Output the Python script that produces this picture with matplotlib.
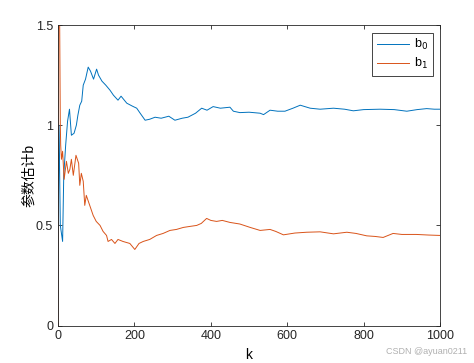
import matplotlib
matplotlib.use('Agg')
import matplotlib.pyplot as plt

plt.rcParams['font.family'] = ['Liberation Sans', 'Noto Sans CJK SC', 'DejaVu Sans']

# values
k_b0 = [0, 2, 4, 6, 9, 12, 15, 20, 25, 30, 35, 42, 48, 52, 57, 62, 66, 72, 79, 85,
        93, 101, 106, 115, 125, 136, 145, 157, 165, 180, 195, 206, 215, 228, 240,
        254, 270, 290, 306, 325, 340, 360, 376, 390, 406, 425, 450, 459, 476, 500,
        529, 538, 555, 575, 594, 615, 634, 660, 686, 721, 750, 773, 800, 843, 880,
        913, 940, 965, 985, 1000]
b0 = [0.0, 1.0, 0.8, 0.5, 0.46, 0.42, 0.75, 0.9, 1.02, 1.08, 0.95, 0.96, 1.0, 1.05,
      1.1, 1.12, 1.2, 1.23, 1.29, 1.27, 1.23, 1.28, 1.25, 1.22, 1.2, 1.175, 1.15,
      1.125, 1.145, 1.11, 1.095, 1.085, 1.06, 1.025, 1.03, 1.04, 1.035, 1.045, 1.025,
      1.035, 1.04, 1.06, 1.085, 1.075, 1.093, 1.085, 1.09, 1.07, 1.063, 1.065, 1.06,
      1.053, 1.075, 1.07, 1.07, 1.085, 1.10, 1.085, 1.08, 1.085, 1.08, 1.072, 1.078,
      1.08, 1.078, 1.07, 1.078, 1.083, 1.08, 1.08]

k_b1 = [0, 1, 4, 6, 7, 9, 12, 16, 22, 27, 31, 35, 40, 47, 54, 57, 61, 66, 70, 74,
        83, 92, 100, 110, 118, 127, 131, 140, 149, 157, 170, 188, 201, 212, 223, 240,
        258, 275, 293, 310, 328, 345, 363, 375, 389, 400, 415, 430, 450, 476, 503, 529,
        555, 570, 590, 620, 651, 686, 721, 756, 780, 808, 830, 851, 877, 900, 938,
        970, 1000]
b1 = [0.0, 2.5, 1.6, 1.0, 0.9, 0.83, 0.87, 0.73, 0.82, 0.76, 0.78, 0.83, 0.75, 0.85,
      0.81, 0.7, 0.76, 0.72, 0.6, 0.65, 0.6, 0.55, 0.52, 0.5, 0.47, 0.45, 0.42, 0.43,
      0.41, 0.43, 0.42, 0.41, 0.38, 0.41, 0.42, 0.43, 0.45, 0.46, 0.475, 0.48, 0.49,
      0.495, 0.50, 0.51, 0.535, 0.525, 0.52, 0.525, 0.515, 0.507, 0.49, 0.475, 0.48,
      0.47, 0.453, 0.462, 0.466, 0.468, 0.458, 0.466, 0.46, 0.448, 0.445, 0.44, 0.46,
      0.455, 0.455, 0.452, 0.45]

fig = plt.figure(figsize=(4.74, 3.63), dpi=100)
ax = fig.add_axes([0.1224, 0.103, 0.806, 0.828])

ax.plot(k_b0, b0, color='#0072BD', lw=0.7, label='b$_0$')
ax.plot(k_b1, b1, color='#D95319', lw=0.7, label='b$_1$')

ax.set_xlim(0, 1000)
ax.set_ylim(0, 1.5)
ax.set_xticks([0, 200, 400, 600, 800, 1000])
ax.set_yticks([0, 0.5, 1, 1.5])
ax.set_yticklabels(['0', '0.5', '1', '1.5'])
ax.tick_params(direction='in', length=3, labelsize=9, colors='#262626',
               top=True, right=True, width=0.6)
for s in ax.spines.values():
    s.set_color('#262626')
    s.set_linewidth(0.6)

ax.set_xlabel('k', fontsize=10, labelpad=4)
ax.set_ylabel('参数估计b', fontsize=10, labelpad=0)

leg = ax.legend(loc='upper right', fontsize=9, fancybox=False, edgecolor='#262626',
                framealpha=1, handlelength=2.6, handletextpad=0.4, borderpad=0.35,
                labelspacing=0.35, borderaxespad=0.6)
leg.get_frame().set_linewidth(0.6)

fig.text(0.985, 0.02, 'CSDN @ayuan0211', ha='right', va='bottom', fontsize=6.5,
         color='#b0b0b0')

fig.savefig('out.png', dpi=100)
